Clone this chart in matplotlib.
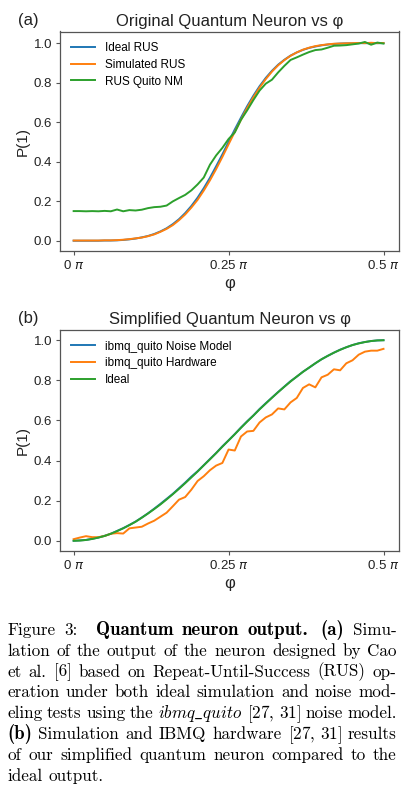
import matplotlib
matplotlib.use("Agg")
import matplotlib.pyplot as plt

plt.rcParams['font.family'] = ['Liberation Sans', 'DejaVu Sans']

# phase in units of pi
phi = [0.00, 0.01, 0.02, 0.03, 0.04, 0.05, 0.06, 0.07, 0.08, 0.09,
       0.10, 0.11, 0.12, 0.13, 0.14, 0.15, 0.16, 0.17, 0.18, 0.19,
       0.20, 0.21, 0.22, 0.23, 0.24, 0.25, 0.26, 0.27, 0.28, 0.29,
       0.30, 0.31, 0.32, 0.33, 0.34, 0.35, 0.36, 0.37, 0.38, 0.39,
       0.40, 0.41, 0.42, 0.43, 0.44, 0.45, 0.46, 0.47, 0.48, 0.49, 0.50]

# (a) original neuron
ideal_rus = [0.000, 0.000, 0.000, 0.000, 0.000, 0.001, 0.001, 0.002, 0.004, 0.007,
             0.011, 0.017, 0.024, 0.034, 0.047, 0.063, 0.084, 0.109, 0.140, 0.176,
             0.218, 0.266, 0.319, 0.377, 0.437, 0.500, 0.563, 0.623, 0.681, 0.734,
             0.782, 0.824, 0.860, 0.891, 0.916, 0.937, 0.953, 0.966, 0.976, 0.983,
             0.989, 0.993, 0.996, 0.998, 0.999, 0.999, 1.000, 1.000, 1.000, 1.000, 1.000]
sim_rus = [0.001, 0.001, 0.001, 0.001, 0.001, 0.002, 0.002, 0.003, 0.005, 0.008,
           0.012, 0.016, 0.023, 0.032, 0.045, 0.060, 0.079, 0.104, 0.133, 0.168,
           0.207, 0.254, 0.306, 0.363, 0.424, 0.488, 0.551, 0.612, 0.672, 0.726,
           0.775, 0.818, 0.856, 0.888, 0.914, 0.936, 0.953, 0.967, 0.977, 0.985,
           0.990, 0.994, 0.997, 0.998, 0.999, 1.000, 1.001, 1.000, 1.002, 1.000, 1.001]
quito_nm = [0.150, 0.150, 0.149, 0.150, 0.149, 0.151, 0.149, 0.158, 0.149, 0.155,
            0.153, 0.157, 0.165, 0.170, 0.172, 0.178, 0.199, 0.216, 0.232, 0.255,
            0.285, 0.320, 0.385, 0.432, 0.470, 0.515, 0.548, 0.612, 0.660, 0.712,
            0.760, 0.795, 0.815, 0.852, 0.885, 0.915, 0.928, 0.942, 0.955, 0.965,
            0.968, 0.977, 0.987, 0.988, 0.990, 0.994, 0.998, 1.006, 0.992, 1.003, 0.998]

# (b) simplified neuron
noise_model = [0.000, 0.002, 0.004, 0.010, 0.016, 0.025, 0.035, 0.049, 0.063, 0.079,
               0.096, 0.116, 0.137, 0.160, 0.184, 0.209, 0.234, 0.262, 0.290, 0.320,
               0.347, 0.377, 0.408, 0.438, 0.471, 0.501, 0.532, 0.565, 0.596, 0.625,
               0.657, 0.686, 0.714, 0.742, 0.769, 0.796, 0.818, 0.843, 0.863, 0.885,
               0.905, 0.922, 0.938, 0.953, 0.965, 0.976, 0.985, 0.991, 0.996, 0.999, 1.000]
hardware = [0.008, 0.016, 0.023, 0.018, 0.018, 0.024, 0.035, 0.038, 0.036, 0.062,
            0.066, 0.070, 0.086, 0.100, 0.120, 0.140, 0.172, 0.205, 0.218, 0.255,
            0.298, 0.322, 0.352, 0.375, 0.388, 0.455, 0.450, 0.520, 0.545, 0.548,
            0.590, 0.615, 0.630, 0.660, 0.655, 0.690, 0.712, 0.762, 0.780, 0.765,
            0.815, 0.828, 0.855, 0.850, 0.885, 0.900, 0.928, 0.943, 0.948, 0.948, 0.957]
ideal = [0.000, 0.001, 0.004, 0.009, 0.016, 0.024, 0.035, 0.048, 0.062, 0.078,
         0.095, 0.115, 0.136, 0.158, 0.181, 0.206, 0.232, 0.259, 0.287, 0.316,
         0.345, 0.376, 0.406, 0.437, 0.469, 0.500, 0.531, 0.563, 0.594, 0.624,
         0.655, 0.684, 0.713, 0.741, 0.768, 0.794, 0.819, 0.842, 0.864, 0.885,
         0.905, 0.922, 0.938, 0.952, 0.965, 0.976, 0.984, 0.991, 0.996, 0.999, 1.000]

x_ticks = [0, 0.25, 0.5]
x_ticklabels = ['0 $\\pi$', '0.25 $\\pi$', '0.5 $\\pi$']
y_ticks = [0.0, 0.2, 0.4, 0.6, 0.8, 1.0]

W, H = 411, 792
fig = plt.figure(figsize=(W / 100, H / 100), dpi=100)
fig.patch.set_facecolor('white')

def make_axes(left, top, right, bottom):
    return fig.add_axes([left / W, 1 - bottom / H, (right - left) / W, (bottom - top) / H])

def style_axes(ax, title, ylim):
    ax.set_xlim(-0.022, 0.525)
    ax.set_ylim(*ylim)
    ax.set_xticks(x_ticks)
    ax.set_xticklabels(x_ticklabels)
    ax.set_yticks(y_ticks)
    ax.set_yticklabels([f'{v:.1f}' for v in y_ticks])
    ax.tick_params(labelsize=9.5, length=3, width=0.8, color='#555555', pad=2.5,
                   labelcolor='#222222')
    for s in ax.spines.values():
        s.set_color('#555555')
        s.set_linewidth(0.9)
    ax.set_title(title, fontsize=12, pad=4, color='#222222')
    ax.set_xlabel('φ', fontsize=12, labelpad=3, color='#222222')
    ax.set_ylabel('P(1)', fontsize=11, labelpad=3, color='#222222')
    ax.legend(loc='upper left', frameon=False, fontsize=8.5, labelspacing=0.4,
              handlelength=2.1, handletextpad=0.8, borderaxespad=0.5)

c_blue, c_orange, c_green = '#1f77b4', '#ff7f0e', '#2ca02c'

ax1 = make_axes(60, 31.5, 399, 251)
ax1.plot(phi, ideal_rus, color=c_blue, lw=1.4, label='Ideal RUS')
ax1.plot(phi, sim_rus, color=c_orange, lw=1.4, label='Simulated RUS')
ax1.plot(phi, quito_nm, color=c_green, lw=1.4, label='RUS Quito NM')
style_axes(ax1, 'Original Quantum Neuron vs φ', (-0.052, 1.059))
fig.text(18 / W, 1 - 20 / H, '(a)', fontsize=12, ha='left', va='center', color='#222222')

ax2 = make_axes(60, 330, 399, 551)
ax2.plot(phi, noise_model, color=c_blue, lw=1.4, label='ibmq_quito Noise Model')
ax2.plot(phi, hardware, color=c_orange, lw=1.4, label='ibmq_quito Hardware')
ax2.plot(phi, ideal, color=c_green, lw=1.4, label='Ideal')
style_axes(ax2, 'Simplified Quantum Neuron vs φ', (-0.051, 1.051))
fig.text(18 / W, 1 - 319 / H, '(b)', fontsize=12, ha='left', va='center', color='#222222')

# caption, justified by hand; third item is the weight of the gap after the word
cap_fs = 12.3
fonts = {'r': dict(family='cmr10', fontsize=cap_fs),
         'b': dict(family='cmb10', fontsize=cap_fs * 1.1),
         'm': dict(family='cmr10', math_fontfamily='cm', fontsize=cap_fs)}

def words(s):
    return [(w, 'r', 1.0) for w in s.split()]

caption = [
    [('Figure', 'r', 1.0), ('3:', 'r', 2.2), ('Quantum', 'b', 1.0), ('neuron', 'b', 1.0),
     ('output.', 'b', 1.4), ('(a)', 'b', 1.0), ('Simu-', 'r', 1.0)],
    words('lation of the output of the neuron designed by Cao'),
    words('et al. [6] based on Repeat-Until-Success (RUS) op-'),
    words('eration under both ideal simulation and noise mod-'),
    words('eling tests using the') + [('$\\mathit{ibmq\\_quito}$', 'm', 1.0),
                                      ('$[27,\\,31]$', 'm', 1.0)] + words('noise model.'),
    [('(b)', 'b', 1.0)] + words('Simulation and IBMQ hardware') +
    [('$[27,\\,31]$', 'm', 1.0)] + words('results'),
    words('of our simplified quantum neuron compared to the'),
    words('ideal output.'),
]
x_left, x_right = 7.3, 396.7
base0, step = 635, 20.8
renderer = fig.canvas.get_renderer()
space_px = 0.333 * cap_fs * 100 / 72
for i, line in enumerate(caption):
    y = 1 - (base0 + i * step) / H
    texts = [fig.text(0, y, w, va='baseline', ha='left', color='black', **fonts[s])
             for w, s, _ in line]
    widths = [t.get_window_extent(renderer).width for t in texts]
    weights = [g for _, _, g in line[:-1]]
    if i < len(caption) - 1:
        unit = (x_right - x_left - sum(widths)) / sum(weights)
    else:
        unit = space_px
    x = x_left
    for t, w, g in zip(texts, widths, weights + [0]):
        t.set_x(x / W)
        x += w + unit * g

fig.savefig('out.png', dpi=100, facecolor='white')
